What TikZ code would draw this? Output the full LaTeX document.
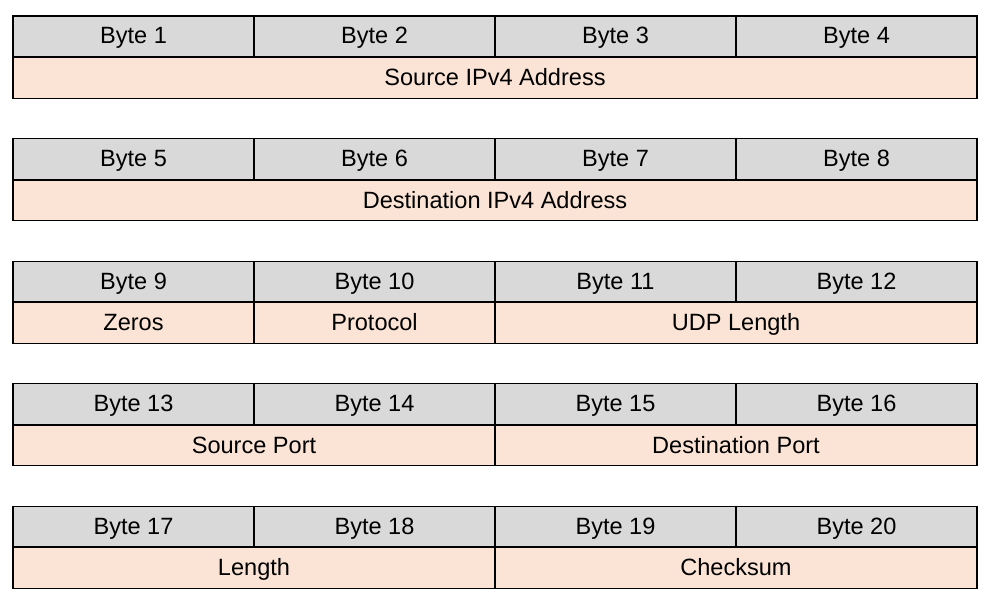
\documentclass[tikz,border=0pt]{standalone}
\usepackage{fontspec}
\setmainfont{Liberation Sans}
\usepackage{xcolor}
\usetikzlibrary{positioning}
\definecolor{bytegray}{HTML}{D9D9D9}
\definecolor{fieldpeach}{HTML}{FBE4D5}
\tikzset{
    cell/.style={rectangle, draw=black, line width=0.6pt, inner sep=0pt, minimum height=0.81cm,
        text height=0.88em, text depth=0em, font=\fontsize{13.4}{16}\selectfont},
    bytecell/.style={cell, fill=bytegray, minimum width=4.82cm},
    field/.style={cell, fill=fieldpeach, anchor=north west},
    onebyte/.style={field, minimum width=4.82cm},
    twobyte/.style={field, minimum width=9.64cm},
    fourbyte/.style={field, minimum width=19.28cm}
}
\begin{document}
\begin{tikzpicture}
    \useasboundingbox (0,0) rectangle (19.78,11.98);

    % Byte headers
    \foreach \blk in {0,...,4} {
        \foreach \col in {0,...,3} {
            \pgfmathtruncatemacro{\num}{4*\blk+\col+1}
            \node[bytecell] (b\num) at (2.67+4.82*\col, 11.255-2.452*\blk) {Byte \num};
        }
    }

    % Addresses
    \node[fourbyte] (src) at (b1.south west) {Source IPv4 Address};
    \node[fourbyte] (dst) at (b5.south west) {Destination IPv4 Address};

    % Zeros, protocol, length
    \node[onebyte] (zeros) at (b9.south west) {Zeros};
    \node[onebyte] (proto) at (b10.south west) {Protocol};
    \node[twobyte] (udplen) at (b11.south west) {UDP Length};

    % Ports
    \node[twobyte] (sport) at (b13.south west) {Source Port};
    \node[twobyte] (dport) at (b15.south west) {Destination Port};

    % Length and checksum
    \node[twobyte] (len) at (b17.south west) {Length};
    \node[twobyte] (csum) at (b19.south west) {Checksum};
\end{tikzpicture}
\end{document}
